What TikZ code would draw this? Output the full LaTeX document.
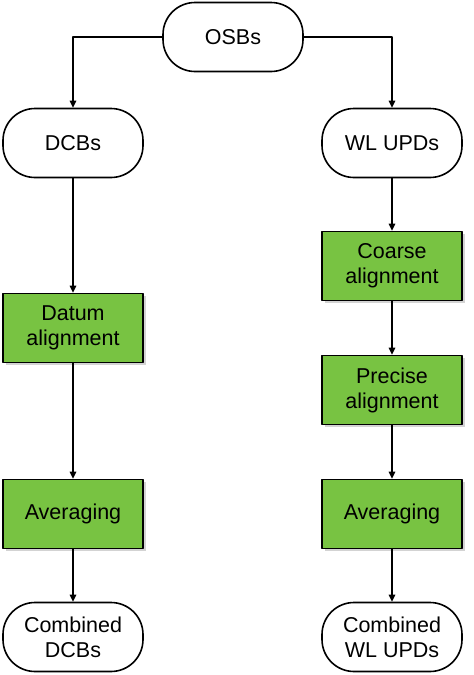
\documentclass[tikz,border=0pt]{standalone}
\usepackage{fontspec}
\setmainfont{Liberation Sans}
\usetikzlibrary{arrows.meta,shadows}
\definecolor{stepgreen}{RGB}{120,195,66}
\begin{document}
\begin{tikzpicture}[x=1pt, y=1pt, line join=round,
    data/.style={draw, line width=1.6pt, rounded corners=32pt, fill=white,
      minimum width=140pt, minimum height=69pt, align=center,
      font=\fontsize{21.5}{25}\selectfont},
    proc/.style={draw, line width=1.6pt, fill=stepgreen,
      minimum width=140pt, minimum height=69pt, align=center,
      font=\fontsize{21.5}{25}\selectfont,
      drop shadow={shadow xshift=2.5pt, shadow yshift=-2.5pt, opacity=0.35}},
    flow/.style={line width=1.2pt, -{Triangle[length=7pt, width=6.5pt]}}]
  \useasboundingbox (0,0) rectangle (474,-675);
  % top
  \node[data] (osb) at (233,-37) {OSBs};
  % left branch
  \node[data] (dcb) at (73,-143) {DCBs};
  \node[proc] (datum) at (73,-328) {Datum\\alignment};
  \node[proc] (avgL) at (73,-514) {Averaging};
  \node[data] (combL) at (73,-637) {Combined\\DCBs};
  % right branch
  \node[data] (upd) at (392,-143) {WL UPDs};
  \node[proc] (coarse) at (392,-266) {Coarse\\alignment};
  \node[proc] (precise) at (392,-390) {Precise\\alignment};
  \node[proc] (avgR) at (392,-514) {Averaging};
  \node[data] (combR) at (392,-637) {Combined\\WL UPDs};
  % arrows
  \draw[flow] (osb.west) -| (dcb.north);
  \draw[flow] (osb.east) -| (upd.north);
  \draw[flow] (dcb) -- (datum);
  \draw[flow] (datum) -- (avgL);
  \draw[flow] (avgL) -- (combL);
  \draw[flow] (upd) -- (coarse);
  \draw[flow] (coarse) -- (precise);
  \draw[flow] (precise) -- (avgR);
  \draw[flow] (avgR) -- (combR);
\end{tikzpicture}
\end{document}
